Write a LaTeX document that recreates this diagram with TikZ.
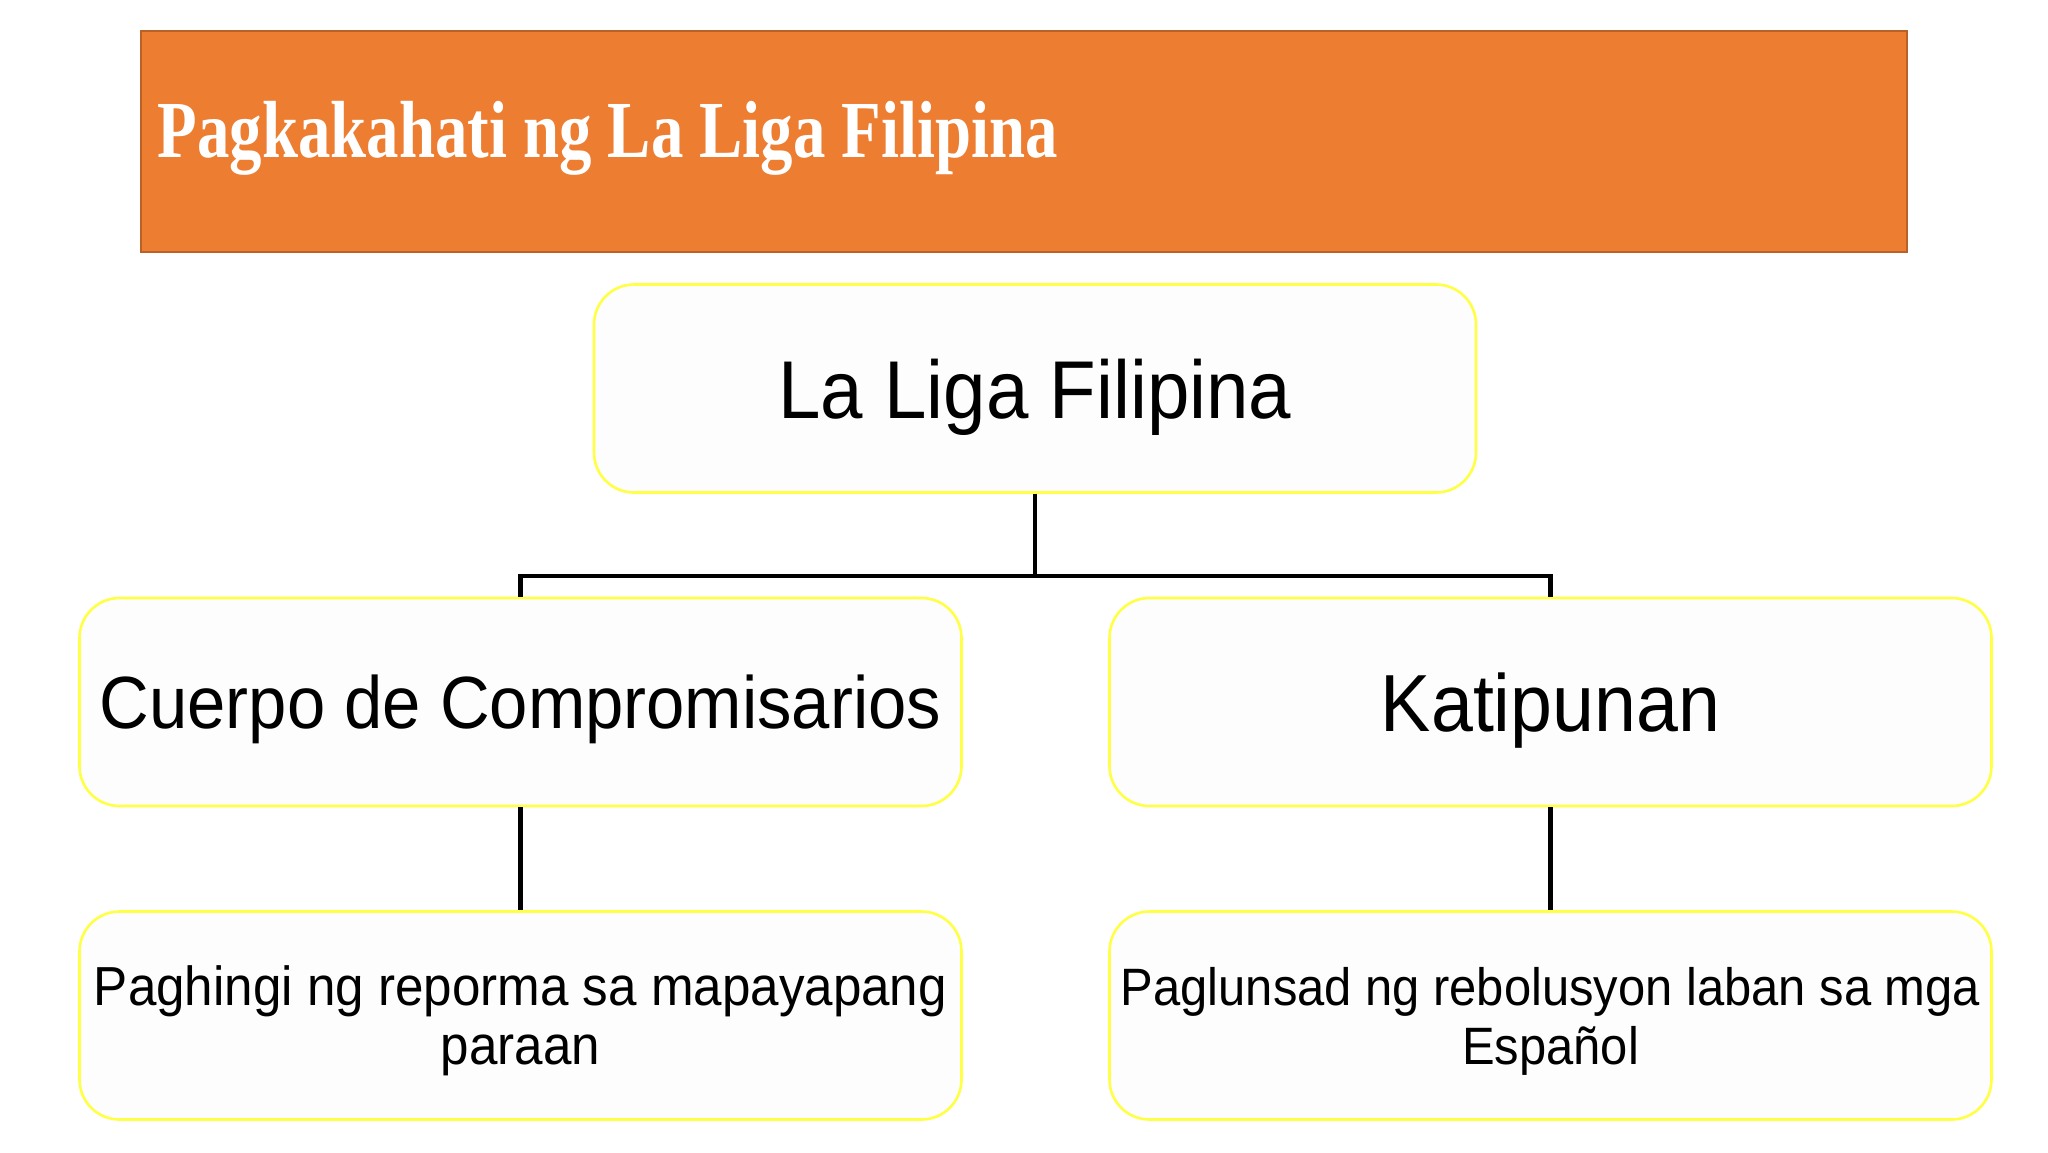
\documentclass[tikz,border=0pt]{standalone}
\usepackage{fontspec}
\setmainfont{Liberation Sans}
\newfontfamily\boxfont{Liberation Sans}[FakeStretch=0.93]
\newfontfamily\titlefont{Liberation Serif}[FakeStretch=0.8]
\definecolor{slideorange}{RGB}{237,125,49}
\definecolor{orangeedge}{RGB}{184,98,40}
\definecolor{boxyellow}{RGB}{255,255,70}
\definecolor{boxfill}{RGB}{254,253,253}

\tikzset{every picture/.style={line width=0.75pt}}
\tikzset{
  ligabox/.style={draw=boxyellow, line width=1.3pt, fill=boxfill, rounded corners=20pt,
    minimum width=441pt, minimum height=104pt, inner sep=0pt, text depth=0pt,
    align=center, font=\boxfont},
  link/.style={draw=black, line width=2.2pt}
}

\begin{document}
\begin{tikzpicture}[x=0.5pt,y=0.5pt,yscale=-1,xscale=1]
\useasboundingbox (0,0) rectangle (2048,1152);

%Shape: Rectangle (title band)
\draw [draw=orangeedge, fill=slideorange, line width=1pt] (141,31) rectangle (1907,252);
\node [anchor=base west, inner sep=0pt, text=white, font=\titlefont\bfseries\fontsize{40.5}{48}\selectfont] (title) at (157,157) {Pagkakahati ng La Liga Filipina};

%Boxes
\node [ligabox, font=\boxfont\fontsize{41}{49}\selectfont] (liga) at (1035,388.5) {La Liga Filipina};
\node [ligabox, font=\boxfont\fontsize{37}{44}\selectfont] (cuerpo) at (520.5,702) {Cuerpo de Compromisarios};
\node [ligabox, font=\boxfont\fontsize{40.5}{48}\selectfont] (kati) at (1550.5,702) {Katipunan};
\node [ligabox, font=\boxfont\fontsize{27.5}{29.5}\selectfont] (hingi) at (520.5,1015.5) {Paghingi ng reporma sa mapayapang\\paraan};
\node [ligabox, font=\boxfont\fontsize{26.3}{29.5}\selectfont] (lunsad) at (1550.5,1015.5) {Paglunsad ng rebolusyon laban sa mga\\Español};

%Connectors
\coordinate (split) at (1035,576);
\draw [link] (liga.south) -- (split);
\draw [link] (split) -| (cuerpo.north);
\draw [link] (split) -| (kati.north);
\draw [link] (cuerpo.south) -- (hingi.north);
\draw [link] (kati.south) -- (lunsad.north);

\end{tikzpicture}
\end{document}
